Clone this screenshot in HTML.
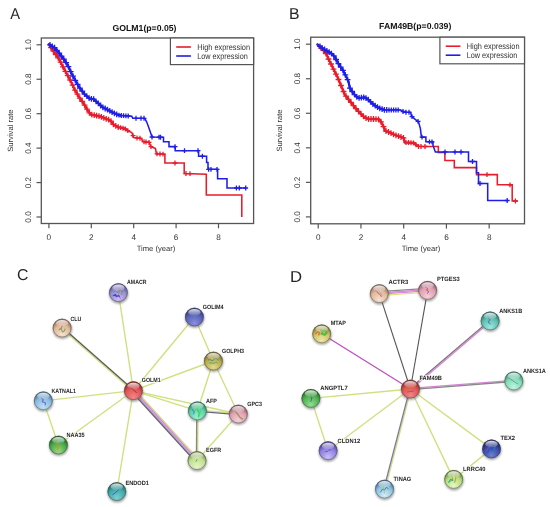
<!DOCTYPE html>
<html><head><meta charset="utf-8"><title>Figure</title>
<style>html,body{margin:0;padding:0;background:#fff;}body{width:550px;height:507px;overflow:hidden;}svg{display:block;will-change:transform;}</style>
</head><body>
<svg width="550" height="507" viewBox="0 0 550 507" font-family='"Liberation Sans", sans-serif' text-rendering="geometricPrecision">
<defs><filter id="blur" x="-50%" y="-50%" width="200%" height="200%"><feGaussianBlur stdDeviation="0.8"/></filter><linearGradient id="hl" x1="0" y1="0" x2="0" y2="1"><stop offset="0" stop-color="#fff" stop-opacity="0.85"/><stop offset="1" stop-color="#fff" stop-opacity="0.05"/></linearGradient><radialGradient id="g0" cx="50%" cy="78%" r="75%" fx="50%" fy="85%"><stop offset="0" stop-color="#c8c0f0"/><stop offset="0.6" stop-color="#9a8ed0"/><stop offset="0.92" stop-color="#5b4f96"/><stop offset="1" stop-color="#5b4f96"/></radialGradient><radialGradient id="g1" cx="50%" cy="78%" r="75%" fx="50%" fy="85%"><stop offset="0" stop-color="#f6e2d2"/><stop offset="0.6" stop-color="#e0b898"/><stop offset="0.92" stop-color="#9a7058"/><stop offset="1" stop-color="#9a7058"/></radialGradient><radialGradient id="g2" cx="50%" cy="78%" r="75%" fx="50%" fy="85%"><stop offset="0" stop-color="#8a90e0"/><stop offset="0.6" stop-color="#5a62b8"/><stop offset="0.92" stop-color="#303a80"/><stop offset="1" stop-color="#303a80"/></radialGradient><radialGradient id="g3" cx="50%" cy="78%" r="75%" fx="50%" fy="85%"><stop offset="0" stop-color="#e2da90"/><stop offset="0.6" stop-color="#b8ae50"/><stop offset="0.92" stop-color="#777028"/><stop offset="1" stop-color="#777028"/></radialGradient><radialGradient id="g4" cx="50%" cy="78%" r="75%" fx="50%" fy="85%"><stop offset="0" stop-color="#f08888"/><stop offset="0.6" stop-color="#e05454"/><stop offset="0.92" stop-color="#902828"/><stop offset="1" stop-color="#902828"/></radialGradient><radialGradient id="g5" cx="50%" cy="78%" r="75%" fx="50%" fy="85%"><stop offset="0" stop-color="#c0e0f4"/><stop offset="0.6" stop-color="#8cbce0"/><stop offset="0.92" stop-color="#4a7898"/><stop offset="1" stop-color="#4a7898"/></radialGradient><radialGradient id="g6" cx="50%" cy="78%" r="75%" fx="50%" fy="85%"><stop offset="0" stop-color="#a0f0d0"/><stop offset="0.6" stop-color="#5ed0a8"/><stop offset="0.92" stop-color="#2a8a68"/><stop offset="1" stop-color="#2a8a68"/></radialGradient><radialGradient id="g7" cx="50%" cy="78%" r="75%" fx="50%" fy="85%"><stop offset="0" stop-color="#f4d0d8"/><stop offset="0.6" stop-color="#e0a0b0"/><stop offset="0.92" stop-color="#905868"/><stop offset="1" stop-color="#905868"/></radialGradient><radialGradient id="g8" cx="50%" cy="78%" r="75%" fx="50%" fy="85%"><stop offset="0" stop-color="#98dc80"/><stop offset="0.6" stop-color="#48a848"/><stop offset="0.92" stop-color="#206820"/><stop offset="1" stop-color="#206820"/></radialGradient><radialGradient id="g9" cx="50%" cy="78%" r="75%" fx="50%" fy="85%"><stop offset="0" stop-color="#e4f4c8"/><stop offset="0.6" stop-color="#c0e090"/><stop offset="0.92" stop-color="#789050"/><stop offset="1" stop-color="#789050"/></radialGradient><radialGradient id="g10" cx="50%" cy="78%" r="75%" fx="50%" fy="85%"><stop offset="0" stop-color="#80d0d0"/><stop offset="0.6" stop-color="#40a8a8"/><stop offset="0.92" stop-color="#1e6a6a"/><stop offset="1" stop-color="#1e6a6a"/></radialGradient><radialGradient id="g11" cx="50%" cy="78%" r="75%" fx="50%" fy="85%"><stop offset="0" stop-color="#f6e2d2"/><stop offset="0.6" stop-color="#e0b898"/><stop offset="0.92" stop-color="#9a7058"/><stop offset="1" stop-color="#9a7058"/></radialGradient><radialGradient id="g12" cx="50%" cy="78%" r="75%" fx="50%" fy="85%"><stop offset="0" stop-color="#f4d0d8"/><stop offset="0.6" stop-color="#e0a0b0"/><stop offset="0.92" stop-color="#905868"/><stop offset="1" stop-color="#905868"/></radialGradient><radialGradient id="g13" cx="50%" cy="78%" r="75%" fx="50%" fy="85%"><stop offset="0" stop-color="#eee8a8"/><stop offset="0.6" stop-color="#ccc262"/><stop offset="0.92" stop-color="#807828"/><stop offset="1" stop-color="#807828"/></radialGradient><radialGradient id="g14" cx="50%" cy="78%" r="75%" fx="50%" fy="85%"><stop offset="0" stop-color="#a0e8e0"/><stop offset="0.6" stop-color="#5cc0b0"/><stop offset="0.92" stop-color="#2a7a70"/><stop offset="1" stop-color="#2a7a70"/></radialGradient><radialGradient id="g15" cx="50%" cy="78%" r="75%" fx="50%" fy="85%"><stop offset="0" stop-color="#c0f4e0"/><stop offset="0.6" stop-color="#80dcb4"/><stop offset="0.92" stop-color="#40907a"/><stop offset="1" stop-color="#40907a"/></radialGradient><radialGradient id="g16" cx="50%" cy="78%" r="75%" fx="50%" fy="85%"><stop offset="0" stop-color="#f08888"/><stop offset="0.6" stop-color="#e05454"/><stop offset="0.92" stop-color="#902828"/><stop offset="1" stop-color="#902828"/></radialGradient><radialGradient id="g17" cx="50%" cy="78%" r="75%" fx="50%" fy="85%"><stop offset="0" stop-color="#90e090"/><stop offset="0.6" stop-color="#50b050"/><stop offset="0.92" stop-color="#207020"/><stop offset="1" stop-color="#207020"/></radialGradient><radialGradient id="g18" cx="50%" cy="78%" r="75%" fx="50%" fy="85%"><stop offset="0" stop-color="#c8c0f8"/><stop offset="0.6" stop-color="#9080e0"/><stop offset="0.92" stop-color="#504098"/><stop offset="1" stop-color="#504098"/></radialGradient><radialGradient id="g19" cx="50%" cy="78%" r="75%" fx="50%" fy="85%"><stop offset="0" stop-color="#7080d0"/><stop offset="0.6" stop-color="#3a48a8"/><stop offset="0.92" stop-color="#1a2060"/><stop offset="1" stop-color="#1a2060"/></radialGradient><radialGradient id="g20" cx="50%" cy="78%" r="75%" fx="50%" fy="85%"><stop offset="0" stop-color="#e8f8c4"/><stop offset="0.6" stop-color="#b8dc80"/><stop offset="0.92" stop-color="#6e8e3a"/><stop offset="1" stop-color="#6e8e3a"/></radialGradient><radialGradient id="g21" cx="50%" cy="78%" r="75%" fx="50%" fy="85%"><stop offset="0" stop-color="#d4eef8"/><stop offset="0.6" stop-color="#90c4e0"/><stop offset="0.92" stop-color="#4a7898"/><stop offset="1" stop-color="#4a7898"/></radialGradient></defs><rect width="550" height="507" fill="#fff"/>
<text x="0" y="0" transform="translate(10.2,18.8) scale(0.93,1)" font-size="15.8" fill="#262626">A</text>
<text x="289.0" y="18.7" font-size="15.8" fill="#262626">B</text>
<text x="16.9" y="280.3" font-size="15.8" fill="#262626">C</text>
<text x="0" y="0" transform="translate(290.0,281.8) scale(1.06,1)" font-size="15.8" fill="#262626">D</text>
<rect x="41.3" y="38" width="212.3" height="185.5" fill="none" stroke="#555" stroke-width="1.3"/>
<line x1="36.5" y1="217.00" x2="41.3" y2="217.00" stroke="#555" stroke-width="1.2"/>
<text x="0" y="0" transform="translate(31.00,217.00) rotate(-90)" text-anchor="middle" font-size="8.1" fill="#333">0.0</text>
<line x1="36.5" y1="182.56" x2="41.3" y2="182.56" stroke="#555" stroke-width="1.2"/>
<text x="0" y="0" transform="translate(31.00,182.56) rotate(-90)" text-anchor="middle" font-size="8.1" fill="#333">0.2</text>
<line x1="36.5" y1="148.12" x2="41.3" y2="148.12" stroke="#555" stroke-width="1.2"/>
<text x="0" y="0" transform="translate(31.00,148.12) rotate(-90)" text-anchor="middle" font-size="8.1" fill="#333">0.4</text>
<line x1="36.5" y1="113.68" x2="41.3" y2="113.68" stroke="#555" stroke-width="1.2"/>
<text x="0" y="0" transform="translate(31.00,113.68) rotate(-90)" text-anchor="middle" font-size="8.1" fill="#333">0.6</text>
<line x1="36.5" y1="79.24" x2="41.3" y2="79.24" stroke="#555" stroke-width="1.2"/>
<text x="0" y="0" transform="translate(31.00,79.24) rotate(-90)" text-anchor="middle" font-size="8.1" fill="#333">0.8</text>
<line x1="36.5" y1="44.80" x2="41.3" y2="44.80" stroke="#555" stroke-width="1.2"/>
<text x="0" y="0" transform="translate(31.00,44.80) rotate(-90)" text-anchor="middle" font-size="8.1" fill="#333">1.0</text>
<line x1="48.90" y1="223.5" x2="48.90" y2="228.3" stroke="#555" stroke-width="1.2"/>
<text x="48.90" y="239.90" text-anchor="middle" font-size="8.2" fill="#333">0</text>
<line x1="91.30" y1="223.5" x2="91.30" y2="228.3" stroke="#555" stroke-width="1.2"/>
<text x="91.30" y="239.90" text-anchor="middle" font-size="8.2" fill="#333">2</text>
<line x1="133.70" y1="223.5" x2="133.70" y2="228.3" stroke="#555" stroke-width="1.2"/>
<text x="133.70" y="239.90" text-anchor="middle" font-size="8.2" fill="#333">4</text>
<line x1="176.10" y1="223.5" x2="176.10" y2="228.3" stroke="#555" stroke-width="1.2"/>
<text x="176.10" y="239.90" text-anchor="middle" font-size="8.2" fill="#333">6</text>
<line x1="218.50" y1="223.5" x2="218.50" y2="228.3" stroke="#555" stroke-width="1.2"/>
<text x="218.50" y="239.90" text-anchor="middle" font-size="8.2" fill="#333">8</text>
<text x="156.00" y="250.80" text-anchor="middle" font-size="7.6" fill="#333">Time (year)</text>
<text x="0" y="0" transform="translate(13.20,130.60) rotate(-90)" text-anchor="middle" font-size="7.6" fill="#333">Survival rate</text>
<text x="144.50" y="31" text-anchor="middle" font-size="8.7" font-weight="bold" fill="#111">GOLM1(p=0.05)</text>
<polyline points="49.5,45.5 53.9,51.8 58.8,58.7 62.9,66.6 66.6,73.5 70.4,80.4 74.6,89.4 78.9,96.8 83.8,103.7 87.8,110.6 90.7,114.5 95.6,115.5 100.6,116.5 105.5,118.5 110.4,120.4 113.4,124.4 118.3,127.3 120.9,127.7 124.9,128.7 127.8,130.6" fill="none" stroke="#e81c2c" stroke-width="2.3" stroke-linejoin="round" stroke-linecap="round"/>
<polyline points="48.9,44.2 54.9,47.9 59.8,53.8 64.2,59.7 67.9,65.6 71.6,73.5 74.8,79.5 79.2,87.2 84.3,94.0 89.7,98.7 93.7,99.2 97.6,102.7 102.5,107.2 107.5,109.6 112.4,112.4 118.3,115.0 120.9,115.5" fill="none" stroke="#1e1ee8" stroke-width="2.3" stroke-linejoin="round" stroke-linecap="round"/>
<polyline points="49.5,45.5 53.9,51.8 58.8,58.7 62.9,66.6 66.6,73.5 70.4,80.4 74.6,89.4 78.9,96.8 83.8,103.7 87.8,110.6 90.7,114.5 95.6,115.5 100.6,116.5 105.5,118.5 110.4,120.4 113.4,124.4 118.3,127.3 120.9,127.7 124.9,128.7 127.8,130.6 131.8,132.6 133.7,137.5 141.6,138.5 142.6,141.5 149.5,142.5 150.5,146.4 152.5,147.4 155.4,148.4 156.4,153.8 164.9,154.2 164.9,163.0 184.2,163.0 184.2,173.5 206.3,174.2 206.3,194.9 241.8,194.9 241.8,217.0" fill="none" stroke="#e81c2c" stroke-width="1.55" stroke-linejoin="miter"/>
<path d="M48.1,47.6h5.8M51.0,44.7v5.8M50.5,51.1h5.8M53.4,48.2v5.8M52.9,54.5h5.8M55.8,51.6v5.8M55.3,57.9h5.8M58.2,55.0v5.8M57.7,62.2h5.8M60.6,59.3v5.8M60.1,66.8h5.8M63.0,63.9v5.8M62.5,71.3h5.8M65.4,68.4v5.8M64.9,75.7h5.8M67.8,72.8v5.8M67.3,80.0h5.8M70.2,77.1v5.8M69.7,85.1h5.8M72.6,82.2v5.8M72.1,90.1h5.8M75.0,87.2v5.8M74.5,94.2h5.8M77.4,91.3v5.8M76.9,98.1h5.8M79.8,95.2v5.8M79.3,101.4h5.8M82.2,98.5v5.8M81.7,105.1h5.8M84.6,102.2v5.8M84.1,109.2h5.8M87.0,106.3v5.8M86.5,112.8h5.8M89.4,109.9v5.8M88.9,114.7h5.8M91.8,111.8v5.8M91.3,115.2h5.8M94.2,112.3v5.8M93.7,115.7h5.8M96.6,112.8v5.8M96.1,116.2h5.8M99.0,113.3v5.8M98.5,116.8h5.8M101.4,113.9v5.8M100.9,117.8h5.8M103.8,114.9v5.8M103.3,118.8h5.8M106.2,115.9v5.8M105.7,119.7h5.8M108.6,116.8v5.8M108.1,121.2h5.8M111.0,118.3v5.8M110.5,124.4h5.8M113.4,121.5v5.8M112.9,125.8h5.8M115.8,122.9v5.8M115.3,127.2h5.8M118.2,124.3v5.8M118.1,127.7h4.9M120.6,125.2v4.9M120.5,128.2h4.9M123.0,125.8v4.9M123.0,129.0h4.9M125.4,126.6v4.9M125.3,130.6h4.9M127.8,128.2v4.9M130.6,135.7h4.9M133.0,133.2v4.9M134.6,137.9h4.9M137.0,135.5v4.9M137.6,138.3h4.9M140.0,135.8v4.9M141.6,141.7h4.9M144.0,139.3v4.9M143.6,142.0h4.9M146.0,139.5v4.9M146.6,142.4h4.9M149.0,140.0v4.9M148.6,146.7h4.9M151.0,144.2v4.9M154.6,153.8h4.9M157.0,151.4v4.9M157.6,154.0h4.9M160.0,151.5v4.9M160.6,154.1h4.9M163.0,151.7v4.9M172.6,163.0h4.9M175.0,160.6v4.9M183.6,173.6h4.9M186.0,171.1v4.9M187.6,173.7h4.9M190.0,171.2v4.9" stroke="#e81c2c" stroke-width="1.3" fill="none"/>
<polyline points="48.9,44.2 54.9,47.9 59.8,53.8 64.2,59.7 67.9,65.6 71.6,73.5 74.8,79.5 79.2,87.2 84.3,94.0 89.7,98.7 93.7,99.2 97.6,102.7 102.5,107.2 107.5,109.6 112.4,112.4 118.3,115.0 120.9,115.5 131.8,116.3 132.8,118.3 144.6,118.3 146.6,121.8 148.5,126.7 150.5,132.6 152.0,137.0 163.5,137.3 163.5,141.8 169.0,141.8 169.0,146.6 175.2,146.6 175.2,150.7 198.6,150.7 198.6,156.2 206.6,156.2 206.6,162.4 208.0,162.4 208.0,169.3 217.6,169.3 217.6,178.7 227.0,178.7 227.0,188.0 245.7,188.0" fill="none" stroke="#1e1ee8" stroke-width="1.55" stroke-linejoin="miter"/>
<path d="M47.1,44.9h5.8M50.0,42.0v5.8M49.4,46.3h5.8M52.3,43.4v5.8M51.7,47.7h5.8M54.6,44.8v5.8M54.0,50.3h5.8M56.9,47.4v5.8M56.3,53.1h5.8M59.2,50.2v5.8M58.6,56.1h5.8M61.5,53.2v5.8M60.9,59.2h5.8M63.8,56.3v5.8M63.2,62.7h5.8M66.1,59.8v5.8M65.5,66.7h5.8M68.4,63.8v5.8M67.8,71.6h5.8M70.7,68.7v5.8M70.1,76.1h5.8M73.0,73.2v5.8M72.4,80.4h5.8M75.3,77.5v5.8M74.7,84.4h5.8M77.6,81.5v5.8M77.0,88.1h5.8M79.9,85.2v5.8M79.3,91.2h5.8M82.2,88.3v5.8M81.6,94.2h5.8M84.5,91.3v5.8M83.9,96.2h5.8M86.8,93.3v5.8M86.2,98.2h5.8M89.1,95.3v5.8M88.5,98.9h5.8M91.4,96.0v5.8M90.8,99.2h5.8M93.7,96.3v5.8M93.1,101.3h5.8M96.0,98.4v5.8M95.4,103.3h5.8M98.3,100.4v5.8M97.7,105.5h5.8M100.6,102.6v5.8M100.0,107.4h5.8M102.9,104.5v5.8M102.3,108.5h5.8M105.2,105.6v5.8M104.6,109.6h5.8M107.5,106.7v5.8M106.9,110.9h5.8M109.8,108.0v5.8M109.2,112.2h5.8M112.1,109.3v5.8M111.5,113.3h5.8M114.4,110.4v5.8M113.8,114.3h5.8M116.7,111.4v5.8M116.5,115.1h4.9M119.0,112.7v4.9M118.8,115.5h4.9M121.3,113.1v4.9M121.1,115.7h4.9M123.6,113.2v4.9M123.5,115.9h4.9M125.9,113.4v4.9M125.7,116.0h4.9M128.2,113.6v4.9M133.6,118.3h4.9M136.0,115.8v4.9M138.6,118.3h4.9M141.0,115.8v4.9M141.6,118.3h4.9M144.0,115.8v4.9M149.6,137.0h4.9M152.0,134.6v4.9M156.6,137.2h4.9M159.0,134.7v4.9M158.1,137.2h4.9M160.5,134.8v4.9M172.6,146.6h4.9M175.0,144.2v4.9M182.1,150.7h4.9M184.5,148.2v4.9M195.6,150.7h4.9M198.0,148.2v4.9M200.0,156.2h4.9M202.4,153.8v4.9M206.2,169.3h4.9M208.6,166.9v4.9M208.6,169.3h4.9M211.0,166.9v4.9M214.6,169.3h4.9M217.0,166.9v4.9M234.0,188.0h4.9M236.4,185.6v4.9M236.9,188.0h4.9M239.3,185.6v4.9M243.2,188.0h4.9M245.7,185.6v4.9" stroke="#1e1ee8" stroke-width="1.3" fill="none"/>
<rect x="170.4" y="38" width="83.19999999999999" height="26.599999999999994" fill="#fff" stroke="#555" stroke-width="1.2"/>
<line x1="176.20000000000002" y1="47" x2="190.9" y2="47" stroke="#e81c2c" stroke-width="1.6"/>
<line x1="176.20000000000002" y1="56" x2="190.9" y2="56" stroke="#1e1ee8" stroke-width="1.6"/>
<text x="197.20000000000002" y="49.7" font-size="8.3" fill="#333" textLength="52.8" lengthAdjust="spacingAndGlyphs">High expression</text>
<text x="197.20000000000002" y="58.5" font-size="8.3" fill="#333" textLength="50.6" lengthAdjust="spacingAndGlyphs">Low expression</text>
<rect x="310.7" y="37.2" width="213.8" height="186.60000000000002" fill="none" stroke="#555" stroke-width="1.3"/>
<line x1="305.9" y1="216.90" x2="310.7" y2="216.90" stroke="#555" stroke-width="1.2"/>
<text x="0" y="0" transform="translate(300.40,216.90) rotate(-90)" text-anchor="middle" font-size="8.1" fill="#333">0.0</text>
<line x1="305.9" y1="182.36" x2="310.7" y2="182.36" stroke="#555" stroke-width="1.2"/>
<text x="0" y="0" transform="translate(300.40,182.36) rotate(-90)" text-anchor="middle" font-size="8.1" fill="#333">0.2</text>
<line x1="305.9" y1="147.82" x2="310.7" y2="147.82" stroke="#555" stroke-width="1.2"/>
<text x="0" y="0" transform="translate(300.40,147.82) rotate(-90)" text-anchor="middle" font-size="8.1" fill="#333">0.4</text>
<line x1="305.9" y1="113.28" x2="310.7" y2="113.28" stroke="#555" stroke-width="1.2"/>
<text x="0" y="0" transform="translate(300.40,113.28) rotate(-90)" text-anchor="middle" font-size="8.1" fill="#333">0.6</text>
<line x1="305.9" y1="78.74" x2="310.7" y2="78.74" stroke="#555" stroke-width="1.2"/>
<text x="0" y="0" transform="translate(300.40,78.74) rotate(-90)" text-anchor="middle" font-size="8.1" fill="#333">0.8</text>
<line x1="305.9" y1="44.20" x2="310.7" y2="44.20" stroke="#555" stroke-width="1.2"/>
<text x="0" y="0" transform="translate(300.40,44.20) rotate(-90)" text-anchor="middle" font-size="8.1" fill="#333">1.0</text>
<line x1="318.20" y1="223.8" x2="318.20" y2="228.60000000000002" stroke="#555" stroke-width="1.2"/>
<text x="318.20" y="240.20" text-anchor="middle" font-size="8.2" fill="#333">0</text>
<line x1="360.94" y1="223.8" x2="360.94" y2="228.60000000000002" stroke="#555" stroke-width="1.2"/>
<text x="360.94" y="240.20" text-anchor="middle" font-size="8.2" fill="#333">2</text>
<line x1="403.68" y1="223.8" x2="403.68" y2="228.60000000000002" stroke="#555" stroke-width="1.2"/>
<text x="403.68" y="240.20" text-anchor="middle" font-size="8.2" fill="#333">4</text>
<line x1="446.42" y1="223.8" x2="446.42" y2="228.60000000000002" stroke="#555" stroke-width="1.2"/>
<text x="446.42" y="240.20" text-anchor="middle" font-size="8.2" fill="#333">6</text>
<line x1="489.16" y1="223.8" x2="489.16" y2="228.60000000000002" stroke="#555" stroke-width="1.2"/>
<text x="489.16" y="240.20" text-anchor="middle" font-size="8.2" fill="#333">8</text>
<text x="421.00" y="251.10" text-anchor="middle" font-size="7.6" fill="#333">Time (year)</text>
<text x="0" y="0" transform="translate(282.20,130.50) rotate(-90)" text-anchor="middle" font-size="7.6" fill="#333">Survival rate</text>
<text x="415.20" y="28.6" text-anchor="middle" font-size="8.7" font-weight="bold" fill="#111">FAM49B(p=0.039)</text>
<polyline points="317.5,44.6 323.9,50.8 326.8,54.8 328.8,59.7 331.8,65.6 334.7,71.6 337.7,77.5 340.1,83.4 342.6,89.3 344.9,94.8 348.8,99.7 352.8,104.7 356.7,109.6 360.6,113.5 364.6,117.5 368.5,119.0 374.4,119.0 379.4,119.4 381.4,122.4 384.3,128.3 384.9,130.6 389.9,132.5 394.8,135.0 399.7,136.5 403.7,138.0 404.7,142.4 414.5,142.9 416.5,145.4" fill="none" stroke="#e81c2c" stroke-width="2.3" stroke-linejoin="round" stroke-linecap="round"/>
<polyline points="317.5,44.4 321.9,47.9 326.8,50.8 331.8,53.8 334.7,56.8 336.7,60.7 339.6,65.6 342.6,69.6 345.6,75.5 348.5,81.4 349.8,87.9 353.7,93.8 357.7,97.8 360.6,97.8 364.6,97.3 368.5,99.7 372.5,103.7 376.4,106.6 380.4,108.6 384.3,109.9" fill="none" stroke="#1e1ee8" stroke-width="2.3" stroke-linejoin="round" stroke-linecap="round"/>
<polyline points="317.5,44.6 323.9,50.8 326.8,54.8 328.8,59.7 331.8,65.6 334.7,71.6 337.7,77.5 340.1,83.4 342.6,89.3 344.9,94.8 348.8,99.7 352.8,104.7 356.7,109.6 360.6,113.5 364.6,117.5 368.5,119.0 374.4,119.0 379.4,119.4 381.4,122.4 384.3,128.3 384.9,130.6 389.9,132.5 394.8,135.0 399.7,136.5 403.7,138.0 404.7,142.4 414.5,142.9 416.5,145.4 418.5,146.4 438.3,146.6 438.3,152.5 444.9,152.5 444.9,160.5 454.3,160.5 454.3,167.6 476.5,167.6 476.5,174.6 497.3,174.6 497.3,184.8 512.2,184.8 512.2,201.0 517.9,201.0" fill="none" stroke="#e81c2c" stroke-width="1.55" stroke-linejoin="miter"/>
<path d="M318.1,48.0h5.8M321.0,45.1v5.8M320.6,50.4h5.8M323.5,47.5v5.8M323.1,53.7h5.8M326.0,50.8v5.8M325.6,59.0h5.8M328.5,56.1v5.8M328.1,64.0h5.8M331.0,61.1v5.8M330.6,69.1h5.8M333.5,66.2v5.8M333.1,74.2h5.8M336.0,71.3v5.8M335.6,79.5h5.8M338.5,76.6v5.8M338.1,85.5h5.8M341.0,82.6v5.8M340.6,91.5h5.8M343.5,88.6v5.8M343.1,96.2h5.8M346.0,93.3v5.8M345.6,99.3h5.8M348.5,96.4v5.8M348.1,102.4h5.8M351.0,99.5v5.8M350.6,105.6h5.8M353.5,102.7v5.8M353.1,108.7h5.8M356.0,105.8v5.8M355.6,111.4h5.8M358.5,108.5v5.8M358.1,113.9h5.8M361.0,111.0v5.8M360.6,116.4h5.8M363.5,113.5v5.8M363.1,118.0h5.8M366.0,115.1v5.8M365.6,119.0h5.8M368.5,116.1v5.8M368.1,119.0h5.8M371.0,116.1v5.8M370.6,119.0h5.8M373.5,116.1v5.8M373.1,119.1h5.8M376.0,116.2v5.8M375.6,119.3h5.8M378.5,116.4v5.8M378.1,121.8h5.8M381.0,118.9v5.8M380.6,126.7h5.8M383.5,123.8v5.8M383.1,131.0h5.8M386.0,128.1v5.8M385.6,132.0h5.8M388.5,129.1v5.8M388.1,133.1h5.8M391.0,130.2v5.8M390.6,134.3h5.8M393.5,131.4v5.8M393.1,135.4h5.8M396.0,132.5v5.8M395.6,136.1h5.8M398.5,133.2v5.8M398.1,137.0h5.8M401.0,134.1v5.8M400.6,137.9h5.8M403.5,135.0v5.8M403.6,142.5h4.9M406.0,140.0v4.9M406.1,142.6h4.9M408.5,140.1v4.9M408.6,142.7h4.9M411.0,140.3v4.9M411.1,142.8h4.9M413.5,140.4v4.9M413.6,144.8h4.9M416.0,142.3v4.9M416.1,146.4h4.9M418.5,144.0v4.9M418.6,146.4h4.9M421.0,144.0v4.9M422.6,146.5h4.9M425.0,144.0v4.9M484.6,174.6h4.9M487.0,172.2v4.9M507.6,184.8h4.9M510.0,182.4v4.9M512.9,201.0h4.9M515.4,198.6v4.9" stroke="#e81c2c" stroke-width="1.3" fill="none"/>
<polyline points="317.5,44.4 321.9,47.9 326.8,50.8 331.8,53.8 334.7,56.8 336.7,60.7 339.6,65.6 342.6,69.6 345.6,75.5 348.5,81.4 349.8,87.9 353.7,93.8 357.7,97.8 360.6,97.8 364.6,97.3 368.5,99.7 372.5,103.7 376.4,106.6 380.4,108.6 384.3,109.9 400.7,109.9 402.7,111.3 404.7,112.3 410.6,112.3 411.6,116.3 415.5,119.7 418.5,121.7 420.4,128.6 421.4,137.1 425.9,137.1 425.9,141.8 433.0,141.8 433.0,145.4 435.4,151.9 468.5,151.9 468.5,161.5 476.5,161.5 476.5,172.7 478.5,172.7 478.5,183.5 487.7,183.5 487.7,200.5 507.7,200.5" fill="none" stroke="#1e1ee8" stroke-width="1.55" stroke-linejoin="miter"/>
<path d="M317.1,46.4h5.8M320.0,43.5v5.8M319.4,48.1h5.8M322.3,45.2v5.8M321.7,49.5h5.8M324.6,46.6v5.8M324.0,50.9h5.8M326.9,48.0v5.8M326.3,52.2h5.8M329.2,49.3v5.8M328.6,53.6h5.8M331.5,50.7v5.8M330.9,55.9h5.8M333.8,53.0v5.8M333.2,59.5h5.8M336.1,56.6v5.8M335.5,63.6h5.8M338.4,60.7v5.8M337.8,67.1h5.8M340.7,64.2v5.8M340.1,70.4h5.8M343.0,67.5v5.8M342.4,74.9h5.8M345.3,72.0v5.8M344.7,79.6h5.8M347.6,76.7v5.8M347.0,88.1h5.8M349.9,85.2v5.8M349.3,91.5h5.8M352.2,88.6v5.8M351.6,94.6h5.8M354.5,91.7v5.8M353.9,96.9h5.8M356.8,94.0v5.8M356.2,97.8h5.8M359.1,94.9v5.8M358.5,97.7h5.8M361.4,94.8v5.8M360.8,97.4h5.8M363.7,94.5v5.8M363.1,98.2h5.8M366.0,95.3v5.8M365.4,99.6h5.8M368.3,96.7v5.8M367.7,101.8h5.8M370.6,98.9v5.8M370.0,104.0h5.8M372.9,101.1v5.8M372.3,105.7h5.8M375.2,102.8v5.8M374.6,107.2h5.8M377.5,104.2v5.8M376.9,108.3h5.8M379.8,105.4v5.8M379.2,109.2h5.8M382.1,106.3v5.8M381.5,109.9h5.8M384.4,107.0v5.8M383.8,109.9h5.8M386.7,107.0v5.8M386.6,109.9h4.9M389.0,107.5v4.9M388.9,109.9h4.9M391.3,107.5v4.9M391.2,109.9h4.9M393.6,107.5v4.9M393.4,109.9h4.9M395.9,107.5v4.9M395.8,109.9h4.9M398.2,107.5v4.9M400.6,111.5h4.9M403.0,109.0v4.9M403.6,112.3h4.9M406.0,109.8v4.9M406.6,112.3h4.9M409.0,109.8v4.9M409.6,116.6h4.9M412.0,114.2v4.9M415.6,121.4h4.9M418.0,118.9v4.9M419.6,137.1h4.9M422.0,134.7v4.9M427.1,141.8h4.9M429.5,139.4v4.9M429.6,141.8h4.9M432.0,139.4v4.9M442.6,151.9h4.9M445.0,149.5v4.9M452.6,151.9h4.9M455.0,149.5v4.9M458.6,151.9h4.9M461.0,149.5v4.9M470.1,161.5h4.9M472.5,159.1v4.9M477.6,183.5h4.9M480.0,181.1v4.9M504.8,200.5h4.9M507.2,198.1v4.9" stroke="#1e1ee8" stroke-width="1.3" fill="none"/>
<rect x="439.9" y="37.2" width="84.60000000000002" height="26.599999999999994" fill="#fff" stroke="#555" stroke-width="1.2"/>
<line x1="445.7" y1="46.2" x2="460.4" y2="46.2" stroke="#e81c2c" stroke-width="1.6"/>
<line x1="445.7" y1="55.2" x2="460.4" y2="55.2" stroke="#1e1ee8" stroke-width="1.6"/>
<text x="466.7" y="48.900000000000006" font-size="8.3" fill="#333" textLength="52.8" lengthAdjust="spacingAndGlyphs">High expression</text>
<text x="466.7" y="57.7" font-size="8.3" fill="#333" textLength="50.6" lengthAdjust="spacingAndGlyphs">Low expression</text>
<line x1="133.4" y1="390.7" x2="118.4" y2="292.6" stroke="#cfe07e" stroke-width="1.35"/>
<line x1="133.0" y1="391.2" x2="61.7" y2="328.5" stroke="#cfe07e" stroke-width="1.35"/><line x1="133.8" y1="390.2" x2="62.5" y2="327.5" stroke="#5a5a5a" stroke-width="1.35"/>
<line x1="133.4" y1="390.7" x2="194.4" y2="317.0" stroke="#cfe07e" stroke-width="1.35"/>
<line x1="133.4" y1="390.7" x2="213.4" y2="361.0" stroke="#cfe07e" stroke-width="1.35"/>
<line x1="133.4" y1="390.7" x2="43.3" y2="400.8" stroke="#cfe07e" stroke-width="1.35"/>
<line x1="133.4" y1="390.7" x2="58.4" y2="445.0" stroke="#cfe07e" stroke-width="1.35"/>
<line x1="133.4" y1="390.7" x2="116.8" y2="491.5" stroke="#cfe07e" stroke-width="1.35"/>
<line x1="133.4" y1="390.7" x2="197.4" y2="410.8" stroke="#cfe07e" stroke-width="1.35"/>
<line x1="133.4" y1="390.7" x2="238.3" y2="414.0" stroke="#cfe07e" stroke-width="1.35"/>
<line x1="134.8" y1="389.4" x2="198.4" y2="459.2" stroke="#cfe07e" stroke-width="1.35"/><line x1="133.9" y1="390.3" x2="197.5" y2="460.1" stroke="#d884d8" stroke-width="1.35"/><line x1="132.9" y1="391.1" x2="196.5" y2="460.9" stroke="#b894e4" stroke-width="1.35"/><line x1="132.0" y1="392.0" x2="195.6" y2="461.8" stroke="#666" stroke-width="1.35"/>
<line x1="194.4" y1="317.0" x2="213.4" y2="361.0" stroke="#cfe07e" stroke-width="1.35"/>
<line x1="213.4" y1="361.0" x2="197.4" y2="410.8" stroke="#cfe07e" stroke-width="1.35"/>
<line x1="213.4" y1="361.0" x2="238.3" y2="414.0" stroke="#cfe07e" stroke-width="1.35"/>
<line x1="197.4" y1="410.2" x2="238.3" y2="413.4" stroke="#cfe07e" stroke-width="1.35"/><line x1="197.4" y1="411.4" x2="238.3" y2="414.6" stroke="#6a6a7a" stroke-width="1.35"/>
<line x1="198.0" y1="410.8" x2="197.6" y2="460.5" stroke="#cfe07e" stroke-width="1.35"/><line x1="196.8" y1="410.8" x2="196.4" y2="460.5" stroke="#888" stroke-width="1.35"/>
<line x1="238.3" y1="414.0" x2="197.0" y2="460.5" stroke="#cfe07e" stroke-width="1.35"/>
<line x1="43.3" y1="400.8" x2="58.4" y2="445.0" stroke="#cfe07e" stroke-width="1.35"/>
<circle cx="118.7" cy="293.90000000000003" r="9.75" fill="#555" opacity="0.55" filter="url(#blur)"/><circle cx="118.4" cy="292.6" r="9.35" fill="url(#g0)"/><circle cx="118.4" cy="292.6" r="9.0" fill="none" stroke="#4a4a4a" stroke-opacity="0.75" stroke-width="0.7"/><path d="M-5,0 l2,-2 l2,2 l2,-3 l2,2 l2,-1" transform="translate(118.4,292.6)" fill="none" stroke="#3a9a80" stroke-width="0.9" stroke-linecap="round" stroke-linejoin="round" opacity="0.8"/><path d="M-5,3 l2,-1 l1,2 l2,-1 l1,1" transform="translate(118.4,292.6)" fill="none" stroke="#2a2ad8" stroke-width="1.4" stroke-linecap="round" stroke-linejoin="round" opacity="0.8"/><path d="M0,-5 l1,4 l-1,3 l2,4" transform="translate(118.4,292.6)" fill="none" stroke="#d04090" stroke-width="0.7" stroke-linecap="round" stroke-linejoin="round" opacity="0.8"/><path d="M1,-4 l3,3 l-1,3" transform="translate(118.4,292.6)" fill="none" stroke="#30a050" stroke-width="0.8" stroke-linecap="round" stroke-linejoin="round" opacity="0.8"/><ellipse cx="118.4" cy="287.93" rx="6.17" ry="3.37" fill="url(#hl)"/><text x="127.1" y="284.2" font-size="6.1" font-weight="bold" fill="#262626" stroke="#fff" stroke-width="1.6" stroke-opacity="0.85" paint-order="stroke" textLength="19.4" lengthAdjust="spacingAndGlyphs">AMACR</text>
<circle cx="62.4" cy="329.3" r="9.75" fill="#555" opacity="0.55" filter="url(#blur)"/><circle cx="62.1" cy="328" r="9.35" fill="url(#g1)"/><circle cx="62.1" cy="328" r="9.0" fill="none" stroke="#4a4a4a" stroke-opacity="0.75" stroke-width="0.7"/><path d="M-3,2 c1,-2 3,-1 3,1 s2,1 3,-2" transform="translate(62.1,328)" fill="none" stroke="#50a050" stroke-width="1.1" stroke-linecap="round" stroke-linejoin="round" opacity="0.8"/><path d="M-1,1 l1,-3" transform="translate(62.1,328)" fill="none" stroke="#c05050" stroke-width="0.9" stroke-linecap="round" stroke-linejoin="round" opacity="0.8"/><ellipse cx="62.1" cy="323.32" rx="6.17" ry="3.37" fill="url(#hl)"/><text x="70.6" y="321.0" font-size="6.1" font-weight="bold" fill="#262626" stroke="#fff" stroke-width="1.6" stroke-opacity="0.85" paint-order="stroke" textLength="10.7" lengthAdjust="spacingAndGlyphs">CLU</text>
<circle cx="194.70000000000002" cy="318.3" r="9.75" fill="#555" opacity="0.55" filter="url(#blur)"/><circle cx="194.4" cy="317.0" r="9.35" fill="url(#g2)"/><circle cx="194.4" cy="317.0" r="9.0" fill="none" stroke="#4a4a4a" stroke-opacity="0.75" stroke-width="0.7"/><path d="M-4,0 c2,-1 4,1 6,0" transform="translate(194.4,317.0)" fill="none" stroke="#4a8aa0" stroke-width="0.8" stroke-linecap="round" stroke-linejoin="round" opacity="0.8"/><ellipse cx="194.4" cy="312.32" rx="6.17" ry="3.37" fill="url(#hl)"/><text x="202.8" y="309.0" font-size="6.1" font-weight="bold" fill="#262626" stroke="#fff" stroke-width="1.6" stroke-opacity="0.85" paint-order="stroke" textLength="20.8" lengthAdjust="spacingAndGlyphs">GOLIM4</text>
<circle cx="213.70000000000002" cy="362.3" r="9.75" fill="#555" opacity="0.55" filter="url(#blur)"/><circle cx="213.4" cy="361" r="9.35" fill="url(#g3)"/><circle cx="213.4" cy="361" r="9.0" fill="none" stroke="#4a4a4a" stroke-opacity="0.75" stroke-width="0.7"/><path d="M-5,-1 c2,-2 3,2 5,0 s3,-2 5,0" transform="translate(213.4,361)" fill="none" stroke="#3a70a0" stroke-width="1.0" stroke-linecap="round" stroke-linejoin="round" opacity="0.8"/><path d="M-4,2 c2,-1 3,1 5,0 s2,-1 3,0" transform="translate(213.4,361)" fill="none" stroke="#40a040" stroke-width="1.0" stroke-linecap="round" stroke-linejoin="round" opacity="0.8"/><path d="M-1,-4 l2,1" transform="translate(213.4,361)" fill="none" stroke="#c06030" stroke-width="0.8" stroke-linecap="round" stroke-linejoin="round" opacity="0.8"/><ellipse cx="213.4" cy="356.32" rx="6.17" ry="3.37" fill="url(#hl)"/><text x="222" y="353.4" font-size="6.1" font-weight="bold" fill="#262626" stroke="#fff" stroke-width="1.6" stroke-opacity="0.85" paint-order="stroke" textLength="22.1" lengthAdjust="spacingAndGlyphs">GOLPH3</text>
<circle cx="133.70000000000002" cy="392.0" r="9.75" fill="#555" opacity="0.55" filter="url(#blur)"/><circle cx="133.4" cy="390.7" r="9.35" fill="url(#g4)"/><circle cx="133.4" cy="390.7" r="9.0" fill="none" stroke="#4a4a4a" stroke-opacity="0.75" stroke-width="0.7"/><path d="M-5,-3 c2,0 4,1 5,2 l3,3" transform="translate(133.4,390.7)" fill="none" stroke="#902020" stroke-width="1.0" stroke-linecap="round" stroke-linejoin="round" opacity="0.8"/><ellipse cx="133.4" cy="386.02" rx="6.17" ry="3.37" fill="url(#hl)"/><text x="141.8" y="382.4" font-size="6.1" font-weight="bold" fill="#262626" stroke="#fff" stroke-width="1.6" stroke-opacity="0.85" paint-order="stroke" textLength="18.9" lengthAdjust="spacingAndGlyphs">GOLM1</text>
<circle cx="43.599999999999994" cy="402.1" r="9.75" fill="#555" opacity="0.55" filter="url(#blur)"/><circle cx="43.3" cy="400.8" r="9.35" fill="url(#g5)"/><circle cx="43.3" cy="400.8" r="9.0" fill="none" stroke="#4a4a4a" stroke-opacity="0.75" stroke-width="0.7"/><path d="M-2,-3 l2,2 l-1,2 l3,1 l0,2" transform="translate(43.3,400.8)" fill="none" stroke="#5a5ac8" stroke-width="1.2" stroke-linecap="round" stroke-linejoin="round" opacity="0.8"/><ellipse cx="43.3" cy="396.12" rx="6.17" ry="3.37" fill="url(#hl)"/><text x="51.5" y="392.9" font-size="6.1" font-weight="bold" fill="#262626" stroke="#fff" stroke-width="1.6" stroke-opacity="0.85" paint-order="stroke" textLength="24.5" lengthAdjust="spacingAndGlyphs">KATNAL1</text>
<circle cx="197.70000000000002" cy="412.1" r="9.75" fill="#555" opacity="0.55" filter="url(#blur)"/><circle cx="197.4" cy="410.8" r="9.35" fill="url(#g6)"/><circle cx="197.4" cy="410.8" r="9.0" fill="none" stroke="#4a4a4a" stroke-opacity="0.75" stroke-width="0.7"/><path d="M1,-5 l-1,4 l2,3 l-1,4" transform="translate(197.4,410.8)" fill="none" stroke="#30d050" stroke-width="1.5" stroke-linecap="round" stroke-linejoin="round" opacity="0.8"/><path d="M3,-4 l0,5 l-1,4" transform="translate(197.4,410.8)" fill="none" stroke="#40e070" stroke-width="1.2" stroke-linecap="round" stroke-linejoin="round" opacity="0.8"/><path d="M-5,-1 l2,2 l-1,2" transform="translate(197.4,410.8)" fill="none" stroke="#3090c0" stroke-width="1.3" stroke-linecap="round" stroke-linejoin="round" opacity="0.8"/><path d="M-3,-5 l2,2 l-1,2" transform="translate(197.4,410.8)" fill="none" stroke="#a0a040" stroke-width="1.0" stroke-linecap="round" stroke-linejoin="round" opacity="0.8"/><ellipse cx="197.4" cy="406.12" rx="6.17" ry="3.37" fill="url(#hl)"/><text x="206" y="402.9" font-size="6.1" font-weight="bold" fill="#262626" stroke="#fff" stroke-width="1.6" stroke-opacity="0.85" paint-order="stroke" textLength="11" lengthAdjust="spacingAndGlyphs">AFP</text>
<circle cx="238.60000000000002" cy="415.3" r="9.75" fill="#555" opacity="0.55" filter="url(#blur)"/><circle cx="238.3" cy="414" r="9.35" fill="url(#g7)"/><circle cx="238.3" cy="414" r="9.0" fill="none" stroke="#4a4a4a" stroke-opacity="0.75" stroke-width="0.7"/><path d="M-5,-4 c2,1 4,3 5,5 s2,3 4,4" transform="translate(238.3,414)" fill="none" stroke="#908850" stroke-width="1.5" stroke-linecap="round" stroke-linejoin="round" opacity="0.8"/><ellipse cx="238.3" cy="409.32" rx="6.17" ry="3.37" fill="url(#hl)"/><text x="247.2" y="406.1" font-size="6.1" font-weight="bold" fill="#262626" stroke="#fff" stroke-width="1.6" stroke-opacity="0.85" paint-order="stroke" textLength="14.8" lengthAdjust="spacingAndGlyphs">GPC3</text>
<circle cx="58.699999999999996" cy="446.3" r="9.75" fill="#555" opacity="0.55" filter="url(#blur)"/><circle cx="58.4" cy="445" r="9.35" fill="url(#g8)"/><circle cx="58.4" cy="445" r="9.0" fill="none" stroke="#4a4a4a" stroke-opacity="0.75" stroke-width="0.7"/><path d="M0,-4 l-1,3 l1,2 l-1,3 l1,2" transform="translate(58.4,445)" fill="none" stroke="#d09020" stroke-width="1.1" stroke-linecap="round" stroke-linejoin="round" opacity="0.8"/><path d="M1,-4 l3,-1 l1,2" transform="translate(58.4,445)" fill="none" stroke="#30b0a0" stroke-width="1.1" stroke-linecap="round" stroke-linejoin="round" opacity="0.8"/><path d="M-3,1 l2,1" transform="translate(58.4,445)" fill="none" stroke="#80a030" stroke-width="0.8" stroke-linecap="round" stroke-linejoin="round" opacity="0.8"/><ellipse cx="58.4" cy="440.32" rx="6.17" ry="3.37" fill="url(#hl)"/><text x="66.5" y="437.1" font-size="6.1" font-weight="bold" fill="#262626" stroke="#fff" stroke-width="1.6" stroke-opacity="0.85" paint-order="stroke" textLength="18.2" lengthAdjust="spacingAndGlyphs">NAA35</text>
<circle cx="197.3" cy="461.8" r="9.75" fill="#555" opacity="0.55" filter="url(#blur)"/><circle cx="197" cy="460.5" r="9.35" fill="url(#g9)"/><circle cx="197" cy="460.5" r="9.0" fill="none" stroke="#4a4a4a" stroke-opacity="0.75" stroke-width="0.7"/><path d="M-1,1 l1,-2" transform="translate(197,460.5)" fill="none" stroke="#607040" stroke-width="0.8" stroke-linecap="round" stroke-linejoin="round" opacity="0.8"/><ellipse cx="197" cy="455.82" rx="6.17" ry="3.37" fill="url(#hl)"/><text x="206" y="451.8" font-size="6.1" font-weight="bold" fill="#262626" stroke="#fff" stroke-width="1.6" stroke-opacity="0.85" paint-order="stroke" textLength="15.3" lengthAdjust="spacingAndGlyphs">EGFR</text>
<circle cx="117.1" cy="492.8" r="9.75" fill="#555" opacity="0.55" filter="url(#blur)"/><circle cx="116.8" cy="491.5" r="9.35" fill="url(#g10)"/><circle cx="116.8" cy="491.5" r="9.0" fill="none" stroke="#4a4a4a" stroke-opacity="0.75" stroke-width="0.7"/><path d="M-4,3 c2,-1 4,-3 6,-5" transform="translate(116.8,491.5)" fill="none" stroke="#2050b0" stroke-width="1.0" stroke-linecap="round" stroke-linejoin="round" opacity="0.8"/><ellipse cx="116.8" cy="486.82" rx="6.17" ry="3.37" fill="url(#hl)"/><text x="125.4" y="484.6" font-size="6.1" font-weight="bold" fill="#262626" stroke="#fff" stroke-width="1.6" stroke-opacity="0.85" paint-order="stroke" textLength="23.5" lengthAdjust="spacingAndGlyphs">ENDOD1</text>
<line x1="410.4" y1="389.0" x2="379.3" y2="293.6" stroke="#555" stroke-width="1.1"/>
<line x1="410.4" y1="389.0" x2="427.6" y2="290.3" stroke="#555" stroke-width="1.1"/>
<line x1="379.2" y1="291.7" x2="427.5" y2="288.4" stroke="#888" stroke-width="1.35"/><line x1="379.3" y1="293.0" x2="427.6" y2="289.7" stroke="#d888e0" stroke-width="1.35"/><line x1="379.3" y1="294.2" x2="427.6" y2="290.9" stroke="#d888e0" stroke-width="1.35"/><line x1="379.4" y1="295.5" x2="427.7" y2="292.2" stroke="#e0e480" stroke-width="1.35"/>
<line x1="410.4" y1="389.0" x2="321.7" y2="333.8" stroke="#c050c0" stroke-width="1.35"/>
<line x1="410.0" y1="388.5" x2="489.7" y2="320.4" stroke="#777" stroke-width="1.35"/><line x1="410.8" y1="389.5" x2="490.5" y2="321.4" stroke="#d884d8" stroke-width="1.35"/>
<line x1="410.4" y1="388.4" x2="513.8" y2="380.3" stroke="#d884d8" stroke-width="1.35"/><line x1="410.4" y1="389.6" x2="513.8" y2="381.5" stroke="#8a8a8a" stroke-width="1.35"/>
<line x1="410.4" y1="389.0" x2="310.9" y2="398.4" stroke="#cfe07e" stroke-width="1.35"/>
<line x1="410.4" y1="389.0" x2="328.1" y2="450.7" stroke="#cfe07e" stroke-width="1.35"/>
<line x1="411.0" y1="389.2" x2="385.1" y2="489.3" stroke="#cfe07e" stroke-width="1.35"/><line x1="409.8" y1="388.8" x2="383.9" y2="488.9" stroke="#7a7aa4" stroke-width="1.35"/>
<line x1="410.4" y1="389.0" x2="453.7" y2="479.4" stroke="#cfe07e" stroke-width="1.35"/>
<line x1="410.4" y1="389.0" x2="491.5" y2="448.9" stroke="#cfe07e" stroke-width="1.35"/>
<line x1="310.9" y1="398.4" x2="328.1" y2="450.7" stroke="#cfe07e" stroke-width="1.35"/>
<line x1="491.5" y1="448.9" x2="453.7" y2="479.4" stroke="#cfe07e" stroke-width="1.35"/>
<circle cx="379.6" cy="294.90000000000003" r="9.75" fill="#555" opacity="0.55" filter="url(#blur)"/><circle cx="379.3" cy="293.6" r="9.35" fill="url(#g11)"/><circle cx="379.3" cy="293.6" r="9.0" fill="none" stroke="#4a4a4a" stroke-opacity="0.75" stroke-width="0.7"/><path d="M-4,-3 l2,1 l1,2 l2,1 l1,2" transform="translate(379.3,293.6)" fill="none" stroke="#b05070" stroke-width="1.0" stroke-linecap="round" stroke-linejoin="round" opacity="0.8"/><path d="M-2,-4 l3,3 l2,3" transform="translate(379.3,293.6)" fill="none" stroke="#c07080" stroke-width="0.6" stroke-linecap="round" stroke-linejoin="round" opacity="0.8"/><ellipse cx="379.3" cy="288.93" rx="6.17" ry="3.37" fill="url(#hl)"/><text x="388.6" y="284.2" font-size="6.1" font-weight="bold" fill="#262626" stroke="#fff" stroke-width="1.6" stroke-opacity="0.85" paint-order="stroke" textLength="19.7" lengthAdjust="spacingAndGlyphs">ACTR3</text>
<circle cx="427.90000000000003" cy="291.6" r="9.75" fill="#555" opacity="0.55" filter="url(#blur)"/><circle cx="427.6" cy="290.3" r="9.35" fill="url(#g12)"/><circle cx="427.6" cy="290.3" r="9.0" fill="none" stroke="#4a4a4a" stroke-opacity="0.75" stroke-width="0.7"/><path d="M-2,-3 l2,1 l-1,2 l2,1 l-1,2" transform="translate(427.6,290.3)" fill="none" stroke="#a04070" stroke-width="1.0" stroke-linecap="round" stroke-linejoin="round" opacity="0.8"/><ellipse cx="427.6" cy="285.62" rx="6.17" ry="3.37" fill="url(#hl)"/><text x="436.9" y="281.1" font-size="6.1" font-weight="bold" fill="#262626" stroke="#fff" stroke-width="1.6" stroke-opacity="0.85" paint-order="stroke" textLength="22.9" lengthAdjust="spacingAndGlyphs">PTGES3</text>
<circle cx="322.0" cy="335.1" r="9.75" fill="#555" opacity="0.55" filter="url(#blur)"/><circle cx="321.7" cy="333.8" r="9.35" fill="url(#g13)"/><circle cx="321.7" cy="333.8" r="9.0" fill="none" stroke="#4a4a4a" stroke-opacity="0.75" stroke-width="0.7"/><path d="M-6,0 l2,-2 l2,1 l-1,2" transform="translate(321.7,333.8)" fill="none" stroke="#d07030" stroke-width="1.6" stroke-linecap="round" stroke-linejoin="round" opacity="0.8"/><path d="M-1,-4 l2,2 l2,-2 l2,3 l-2,2 l-3,-1" transform="translate(321.7,333.8)" fill="none" stroke="#40b040" stroke-width="2.2" stroke-linecap="round" stroke-linejoin="round" opacity="0.8"/><ellipse cx="321.7" cy="329.12" rx="6.17" ry="3.37" fill="url(#hl)"/><text x="330.7" y="324.5" font-size="6.1" font-weight="bold" fill="#262626" stroke="#fff" stroke-width="1.6" stroke-opacity="0.85" paint-order="stroke" textLength="15.3" lengthAdjust="spacingAndGlyphs">MTAP</text>
<circle cx="490.40000000000003" cy="322.2" r="9.75" fill="#555" opacity="0.55" filter="url(#blur)"/><circle cx="490.1" cy="320.9" r="9.35" fill="url(#g14)"/><circle cx="490.1" cy="320.9" r="9.0" fill="none" stroke="#4a4a4a" stroke-opacity="0.75" stroke-width="0.7"/><path d="M-2,-3 l2,2 l-2,2 l2,2" transform="translate(490.1,320.9)" fill="none" stroke="#4a6ab0" stroke-width="1.1" stroke-linecap="round" stroke-linejoin="round" opacity="0.8"/><ellipse cx="490.1" cy="316.22" rx="6.17" ry="3.37" fill="url(#hl)"/><text x="499.2" y="313.2" font-size="6.1" font-weight="bold" fill="#262626" stroke="#fff" stroke-width="1.6" stroke-opacity="0.85" paint-order="stroke" textLength="23.1" lengthAdjust="spacingAndGlyphs">ANKS1B</text>
<circle cx="514.0999999999999" cy="382.2" r="9.75" fill="#555" opacity="0.55" filter="url(#blur)"/><circle cx="513.8" cy="380.9" r="9.35" fill="url(#g15)"/><circle cx="513.8" cy="380.9" r="9.0" fill="none" stroke="#4a4a4a" stroke-opacity="0.75" stroke-width="0.7"/><path d="M-5,-3 c2,1 5,4 9,6" transform="translate(513.8,380.9)" fill="none" stroke="#5a7a9a" stroke-width="0.9" stroke-linecap="round" stroke-linejoin="round" opacity="0.8"/><ellipse cx="513.8" cy="376.22" rx="6.17" ry="3.37" fill="url(#hl)"/><text x="522.9" y="373.0" font-size="6.1" font-weight="bold" fill="#262626" stroke="#fff" stroke-width="1.6" stroke-opacity="0.85" paint-order="stroke" textLength="23" lengthAdjust="spacingAndGlyphs">ANKS1A</text>
<circle cx="410.7" cy="390.3" r="9.75" fill="#555" opacity="0.55" filter="url(#blur)"/><circle cx="410.4" cy="389" r="9.35" fill="url(#g16)"/><circle cx="410.4" cy="389" r="9.0" fill="none" stroke="#4a4a4a" stroke-opacity="0.75" stroke-width="0.7"/><path d="M-6,1 c2,-2 4,0 6,-2 s4,0 5,-1" transform="translate(410.4,389)" fill="none" stroke="#d07030" stroke-width="1.2" stroke-linecap="round" stroke-linejoin="round" opacity="0.8"/><path d="M-3,3 l6,-1" transform="translate(410.4,389)" fill="none" stroke="#9020a0" stroke-width="0.7" stroke-linecap="round" stroke-linejoin="round" opacity="0.8"/><ellipse cx="410.4" cy="384.32" rx="6.17" ry="3.37" fill="url(#hl)"/><text x="419.4" y="380.4" font-size="6.1" font-weight="bold" fill="#262626" stroke="#fff" stroke-width="1.6" stroke-opacity="0.85" paint-order="stroke" textLength="22.6" lengthAdjust="spacingAndGlyphs">FAM49B</text>
<circle cx="311.2" cy="399.7" r="9.75" fill="#555" opacity="0.55" filter="url(#blur)"/><circle cx="310.9" cy="398.4" r="9.35" fill="url(#g17)"/><circle cx="310.9" cy="398.4" r="9.0" fill="none" stroke="#4a4a4a" stroke-opacity="0.75" stroke-width="0.7"/><path d="M0,-5 l0,4" transform="translate(310.9,398.4)" fill="none" stroke="#3a7a3a" stroke-width="0.8" stroke-linecap="round" stroke-linejoin="round" opacity="0.8"/><path d="M1,-1 l-1,4" transform="translate(310.9,398.4)" fill="none" stroke="#2050a0" stroke-width="0.9" stroke-linecap="round" stroke-linejoin="round" opacity="0.8"/><ellipse cx="310.9" cy="393.72" rx="6.17" ry="3.37" fill="url(#hl)"/><text x="320.2" y="390.1" font-size="6.1" font-weight="bold" fill="#262626" stroke="#fff" stroke-width="1.6" stroke-opacity="0.85" paint-order="stroke" textLength="27.5" lengthAdjust="spacingAndGlyphs">ANGPTL7</text>
<circle cx="328.40000000000003" cy="452.0" r="9.75" fill="#555" opacity="0.55" filter="url(#blur)"/><circle cx="328.1" cy="450.7" r="9.35" fill="url(#g18)"/><circle cx="328.1" cy="450.7" r="9.0" fill="none" stroke="#4a4a4a" stroke-opacity="0.75" stroke-width="0.7"/><path d="M-3,1 c1,-1 2,1 3,-1 s2,0 3,-1" transform="translate(328.1,450.7)" fill="none" stroke="#3a50c0" stroke-width="1.0" stroke-linecap="round" stroke-linejoin="round" opacity="0.8"/><ellipse cx="328.1" cy="446.02" rx="6.17" ry="3.37" fill="url(#hl)"/><text x="337.6" y="443.0" font-size="6.1" font-weight="bold" fill="#262626" stroke="#fff" stroke-width="1.6" stroke-opacity="0.85" paint-order="stroke" textLength="22.5" lengthAdjust="spacingAndGlyphs">CLDN12</text>
<circle cx="491.8" cy="450.2" r="9.75" fill="#555" opacity="0.55" filter="url(#blur)"/><circle cx="491.5" cy="448.9" r="9.35" fill="url(#g19)"/><circle cx="491.5" cy="448.9" r="9.0" fill="none" stroke="#4a4a4a" stroke-opacity="0.75" stroke-width="0.7"/><path d="M-4,4 l3,-7 l2,5 l2,-5" transform="translate(491.5,448.9)" fill="none" stroke="#2050d0" stroke-width="1.5" stroke-linecap="round" stroke-linejoin="round" opacity="0.8"/><path d="M-5,2 l4,-6" transform="translate(491.5,448.9)" fill="none" stroke="#d04060" stroke-width="0.8" stroke-linecap="round" stroke-linejoin="round" opacity="0.8"/><path d="M1,3 l3,-6" transform="translate(491.5,448.9)" fill="none" stroke="#30a060" stroke-width="0.8" stroke-linecap="round" stroke-linejoin="round" opacity="0.8"/><ellipse cx="491.5" cy="444.22" rx="6.17" ry="3.37" fill="url(#hl)"/><text x="500.5" y="439.9" font-size="6.1" font-weight="bold" fill="#262626" stroke="#fff" stroke-width="1.6" stroke-opacity="0.85" paint-order="stroke" textLength="14.6" lengthAdjust="spacingAndGlyphs">TEX2</text>
<circle cx="454.0" cy="480.7" r="9.75" fill="#555" opacity="0.55" filter="url(#blur)"/><circle cx="453.7" cy="479.4" r="9.35" fill="url(#g20)"/><circle cx="453.7" cy="479.4" r="9.0" fill="none" stroke="#4a4a4a" stroke-opacity="0.75" stroke-width="0.7"/><path d="M-5,3 l2,-3 l2,1" transform="translate(453.7,479.4)" fill="none" stroke="#20a080" stroke-width="1.2" stroke-linecap="round" stroke-linejoin="round" opacity="0.8"/><path d="M2,-5 l0,4 l-1,4" transform="translate(453.7,479.4)" fill="none" stroke="#d09030" stroke-width="1.2" stroke-linecap="round" stroke-linejoin="round" opacity="0.8"/><path d="M-2,-4 l1,4 l-2,2" transform="translate(453.7,479.4)" fill="none" stroke="#40c050" stroke-width="1.0" stroke-linecap="round" stroke-linejoin="round" opacity="0.8"/><ellipse cx="453.7" cy="474.72" rx="6.17" ry="3.37" fill="url(#hl)"/><text x="463.1" y="471.3" font-size="6.1" font-weight="bold" fill="#262626" stroke="#fff" stroke-width="1.6" stroke-opacity="0.85" paint-order="stroke" textLength="22.4" lengthAdjust="spacingAndGlyphs">LRRC40</text>
<circle cx="384.8" cy="490.40000000000003" r="9.75" fill="#555" opacity="0.55" filter="url(#blur)"/><circle cx="384.5" cy="489.1" r="9.35" fill="url(#g21)"/><circle cx="384.5" cy="489.1" r="9.0" fill="none" stroke="#4a4a4a" stroke-opacity="0.75" stroke-width="0.7"/><path d="M-4,3 l2,-3 l2,1 l2,-3 l2,2" transform="translate(384.5,489.1)" fill="none" stroke="#3070b0" stroke-width="1.0" stroke-linecap="round" stroke-linejoin="round" opacity="0.8"/><path d="M-1,-4 l0,4 l1,4" transform="translate(384.5,489.1)" fill="none" stroke="#a0c040" stroke-width="0.8" stroke-linecap="round" stroke-linejoin="round" opacity="0.8"/><ellipse cx="384.5" cy="484.43" rx="6.17" ry="3.37" fill="url(#hl)"/><text x="393.6" y="481.1" font-size="6.1" font-weight="bold" fill="#262626" stroke="#fff" stroke-width="1.6" stroke-opacity="0.85" paint-order="stroke" textLength="17.7" lengthAdjust="spacingAndGlyphs">TINAG</text>
</svg>
</body></html>
